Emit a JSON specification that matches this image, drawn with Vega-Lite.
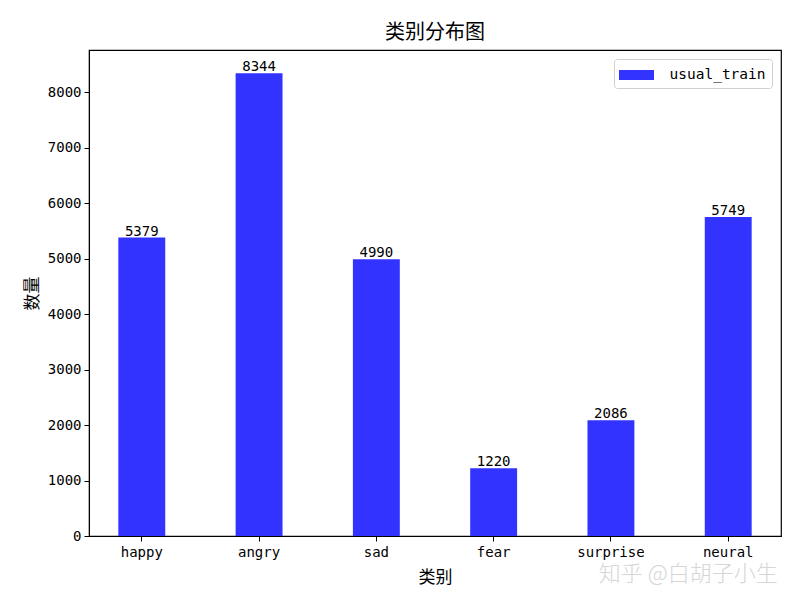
{
  "$schema": "https://vega.github.io/schema/vega-lite/v6.json",
  "width": 692,
  "height": 486,
  "autosize": "none",
  "padding": {"left": 89, "top": 50, "right": 25, "bottom": 64},
  "background": "white",
  "config": {
    "font": "Noto Sans CJK SC",
    "view": {"stroke": "black", "strokeWidth": 1.2},
    "axis": {
      "domainColor": "black",
      "tickColor": "black",
      "tickSize": 5,
      "labelColor": "black",
      "labelFont": "DejaVu Sans Mono",
      "labelFontSize": 14,
      "labelPadding": 3,
      "titleFont": "Noto Sans CJK SC",
      "titleFontSize": 17,
      "titleFontWeight": "normal",
      "titleColor": "black",
      "grid": false
    },
    "legend": {
      "orient": "top-right",
      "offset": 9,
      "padding": 6,
      "strokeColor": "#d0d0d0",
      "fillColor": "white",
      "cornerRadius": 3,
      "labelFont": "DejaVu Sans Mono",
      "labelFontSize": 14.5,
      "labelColor": "black",
      "symbolType": "M-1.75,-0.5H1.75V0.5H-1.75Z",
      "symbolSize": 400,
      "symbolStrokeWidth": 0,
      "symbolOffset": 6.5,
      "labelOffset": 23
    }
  },
  "title": {
    "text": "类别分布图",
    "fontSize": 20,
    "fontWeight": "normal",
    "color": "black",
    "offset": 7
  },
  "datasets": {
    "counts": [
      {"category": "happy", "count": 5379},
      {"category": "angry", "count": 8344},
      {"category": "sad", "count": 4990},
      {"category": "fear", "count": 1220},
      {"category": "surprise", "count": 2086},
      {"category": "neural", "count": 5749}
    ],
    "notes": [
      {"note": "知乎 @白胡子小生"}
    ]
  },
  "layer": [
    {
      "data": {"name": "counts"},
      "mark": {"type": "bar"},
      "encoding": {
        "x": {
          "field": "category",
          "type": "nominal",
          "sort": null,
          "scale": {"paddingInner": 0.6, "paddingOuter": 0.25},
          "axis": {"title": "类别", "labelAngle": 0, "labelPadding": 4, "titlePadding": 10}
        },
        "y": {
          "field": "count",
          "type": "quantitative",
          "scale": {"domain": [0, 8761], "nice": false},
          "axis": {
            "title": "数量",
            "values": [0, 1000, 2000, 3000, 4000, 5000, 6000, 7000, 8000],
            "format": "d",
            "titlePadding": 6
          }
        },
        "color": {
          "datum": "usual_train",
          "type": "nominal",
          "scale": {"range": ["#3333ff"]},
          "legend": {"title": null}
        }
      }
    },
    {
      "data": {"name": "counts"},
      "mark": {
        "type": "text",
        "baseline": "bottom",
        "dy": 1,
        "font": "DejaVu Sans Mono",
        "fontSize": 14,
        "color": "black"
      },
      "encoding": {
        "x": {"field": "category", "type": "nominal", "sort": null},
        "y": {"field": "count", "type": "quantitative"},
        "text": {"field": "count", "type": "quantitative", "format": "d"}
      }
    },
    {
      "data": {"name": "notes"},
      "mark": {
        "type": "text",
        "font": "Noto Sans CJK SC",
        "fontSize": 22,
        "fontWeight": 300,
        "color": "#d6d6d6",
        "baseline": "middle",
        "align": "center",
        "dx": -40
      },
      "encoding": {
        "x": {"datum": "neural", "type": "nominal"},
        "y": {"datum": -690, "type": "quantitative"},
        "text": {"field": "note", "type": "nominal"}
      }
    }
  ]
}
